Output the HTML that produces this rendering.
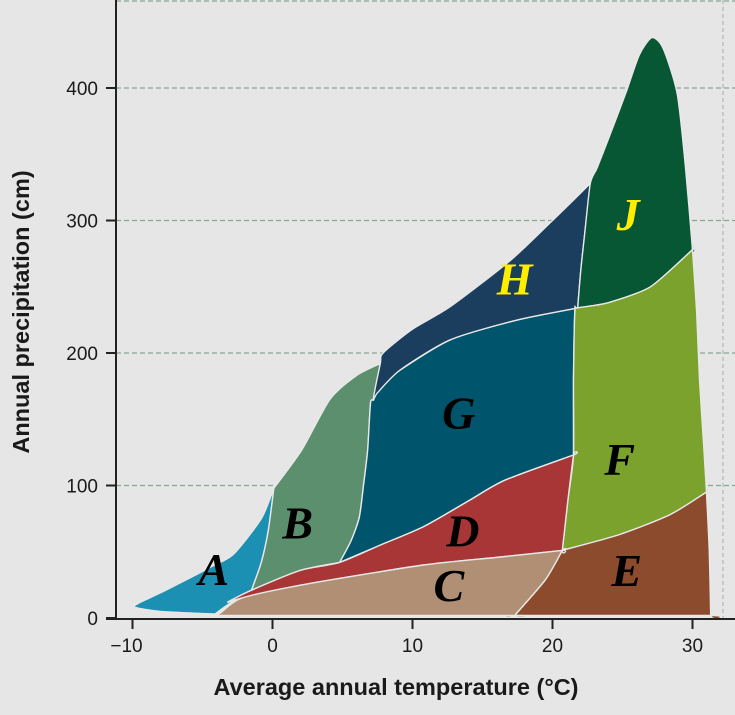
<!DOCTYPE html>
<html><head><meta charset="utf-8">
<style>
html,body{margin:0;padding:0;background:#e6e6e6;}
svg{display:block;font-family:"Liberation Sans",sans-serif;}
</style></head>
<body>
<svg id="chart" width="735" height="715" viewBox="0 0 735 715">
<rect x="0" y="0" width="735" height="715" fill="#e6e6e6"/>
<g id="grid"></g>
<g id="regions"></g>
<g id="axes"></g>
<g id="labels"></g>
<text x="396" y="695" text-anchor="middle" font-size="23.5" font-weight="bold" fill="#1a1a1a">Average annual temperature (°C)</text>
<text transform="translate(29,312) rotate(-90)" text-anchor="middle" font-size="23.5" font-weight="bold" fill="#1a1a1a">Annual precipitation (cm)</text>
</svg>
<script>
const xTicks = [-10, 0, 10, 20, 30];
const xTickLabels = ["\u221210", "0", "10", "20", "30"];
const yTicks = [0, 100, 200, 300, 400];
const yTickLabels = ["0", "100", "200", "300", "400"];
const biomeNames = ["A","B","G","H","J","F","E","D","C"];
const biomeColors = ["#1b90b2","#5b8f6d","#00546c","#1b3e5f","#075634","#7aa22d","#8b4b2c","#a83636","#b08f75"];
const regionA = [[-9.6,11],[-8,19],[-6.5,27],[-4.5,38],[-2.8,48],[-0.8,75],[0.1,98],[0.1,98],[-0.3,66],[-0.8,42],[-1.5,21],[-1.5,21],[-3.2,10],[-4.1,3],[-4.1,3],[-8,5],[-9.8,8]];
const regionB = [[0.1,98],[0.1,98],[2.1,127],[4.1,165],[6,183],[7.7,192],[7.7,192],[7.2,165],[7,162],[6.8,127],[6.5,100],[6.2,76],[5.6,58],[4.8,42],[4.8,42],[2,36],[-1.5,21],[-1.5,21],[-0.8,42],[-0.3,66]];
const regionG = [[7.2,165],[7.7,175],[9.1,187],[12.7,210],[17.5,225],[21.8,234],[21.8,234],[21.6,232],[21.5,180],[21.5,123],[21.5,123],[16.6,104],[14.1,89],[10.8,69],[7.7,55],[4.8,42],[4.8,42],[5.6,58],[6.2,76],[6.5,100],[6.8,127],[7,162]];
const regionH = [[7.7,192],[7.9,200],[10,218],[12.7,235],[17,270],[20,300],[22.7,328],[22.7,328],[22.3,290],[22,260],[21.8,234],[21.8,234],[17.5,225],[12.7,210],[9.1,187],[7.5,170],[7.2,165]];
const regionJ = [[22.7,328],[23.2,340],[24.3,370],[25.3,398],[26.2,425],[27.1,438],[27.9,430],[28.9,396],[29.5,340],[30,278],[30,278],[27,250],[24,238],[21.8,234],[21.8,234],[22,260],[22.3,290]];
const regionF = [[21.8,234],[24,238],[27,250],[30,278],[30,278],[30.3,230],[30.5,180],[30.8,130],[31,95],[31,95],[28.4,78],[24.8,63],[20.7,51],[20.7,51],[21.1,89],[21.5,123],[21.5,180],[21.6,232]];
const regionE = [[20.7,51],[24.8,63],[28.4,78],[31,95],[31,95],[31.2,50],[31.3,2],[31.3,2],[17.3,2],[17.3,2],[19.5,29],[20.7,51]];
const regionD = [[-3.2,12],[-1.5,21],[2,36],[4.8,42],[7.7,55],[10.8,69],[14.1,89],[16.6,104],[21.5,123],[21.5,123],[21.1,89],[20.7,51],[20.7,51],[16.3,46],[10.8,40],[2.1,25],[-2.2,15]];
const regionC = [[-3.7,4],[-2.2,15],[2.1,25],[10.8,40],[16.3,46],[20.7,51],[20.7,51],[19.5,29],[17.3,2],[17.3,2],[-4,2],[-4,2]];
const labelPos = [[-4.2,25],[1.8,60],[13.3,143],[17.3,244],[25.4,293],[24.8,108],[25.3,24],[13.6,54],[12.6,13]];

const NS = "http://www.w3.org/2000/svg";
function xs(t){ return 272.5 + t*14; }
function ys(p){ return 618 - p*1.325; }
function mk(tag, attrs, parent){
  const e = document.createElementNS(NS, tag);
  for (const k in attrs) e.setAttribute(k, attrs[k]);
  parent.appendChild(e); return e;
}
function smoothPath(pts){
  const P = pts.map(p=>[xs(p[0]), ys(p[1])]);
  const n = P.length, t = 0.12;
  let d = "M"+P[0][0].toFixed(1)+","+P[0][1].toFixed(1);
  for (let i=0;i<n;i++){
    const p0=P[(i-1+n)%n], p1=P[i], p2=P[(i+1)%n], p3=P[(i+2)%n];
    const c1=[p1[0]+(p2[0]-p0[0])*t, p1[1]+(p2[1]-p0[1])*t];
    const c2=[p2[0]-(p3[0]-p1[0])*t, p2[1]-(p3[1]-p1[1])*t];
    d += "C"+c1[0].toFixed(1)+","+c1[1].toFixed(1)+" "+c2[0].toFixed(1)+","+c2[1].toFixed(1)+" "+p2[0].toFixed(1)+","+p2[1].toFixed(1);
  }
  return d+"Z";
}
const grid = document.getElementById("grid");
const axes = document.getElementById("axes");
const regionsG = document.getElementById("regions");
const labelsG = document.getElementById("labels");

mk("line",{x1:116,y1:1,x2:735,y2:1,stroke:"#8aa890","stroke-width":1.2,"stroke-dasharray":"5,3"},grid);
mk("line",{x1:723,y1:0,x2:723,y2:619,stroke:"#a8b0a8","stroke-width":1,"stroke-dasharray":"4,3"},grid);
yTicks.forEach((v,i)=>{
  if (v>0){
    const g = mk("line",{x1:116,y1:ys(v),x2:735,y2:ys(v),stroke:"#8aa890","stroke-width":1.2,"stroke-dasharray":"5,3"},grid);
    
    
  }
  const t = mk("line",{x1:106,y1:ys(v),x2:116,y2:ys(v),stroke:"#222","stroke-width":2},axes);
  
  
  const l = mk("text",{x:98,y:ys(v)+7,"text-anchor":"end","font-size":19,fill:"#1a1a1a"},axes);
  l.textContent = yTickLabels[i];
  
  
});
const names = [regionA,regionB,regionG,regionH,regionJ,regionF,regionE,regionD,regionC];
names.forEach((pts,i)=>{
  const p = mk("path",{d:smoothPath(pts),fill:biomeColors[i],stroke:"#e8e8e8","stroke-width":1.4,"stroke-linejoin":"round"},regionsG);
  
  
});
mk("line",{x1:116,y1:0,x2:116,y2:620,stroke:"#222","stroke-width":2},axes);
mk("line",{x1:106,y1:619,x2:735,y2:619,stroke:"#222","stroke-width":2},axes);
xTicks.forEach((v,i)=>{
  const t = mk("line",{x1:xs(v),y1:619,x2:xs(v),y2:629,stroke:"#222","stroke-width":2},axes);
  
  
  const l = mk("text",{x:xs(v)-(v<0?6:0),y:652,"text-anchor":"middle","font-size":19,fill:"#1a1a1a"},axes);
  l.textContent = xTickLabels[i];
  
  
});
biomeNames.forEach((n,i)=>{
  const yellow = (n==="H"||n==="J");
  const t = mk("text",{x:xs(labelPos[i][0]),y:ys(labelPos[i][1]),"text-anchor":"middle","font-size":46,"font-weight":"bold","font-style":"italic","font-family":"'Liberation Serif',serif",fill:yellow?"#ffee00":"#000"},labelsG);
  t.textContent = n;
  
  
});
</script>
</body></html>
